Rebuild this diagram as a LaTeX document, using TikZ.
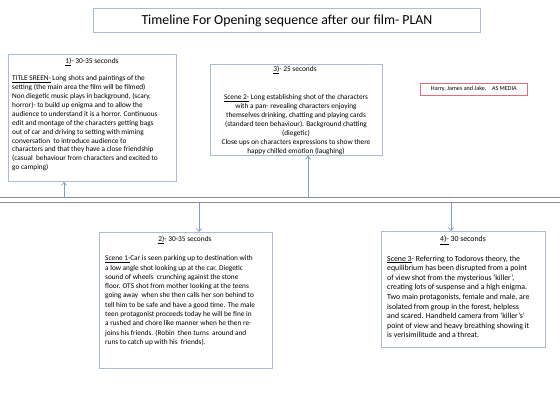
\documentclass[tikz,border=0pt]{standalone}
\usepackage{fontspec}
\setmainfont{Carlito}
\usetikzlibrary{arrows.meta}
\definecolor{boxline}{HTML}{A9BCD6}
\definecolor{arrowc}{HTML}{7F9CC0}
\definecolor{tline}{HTML}{8C8C8C}
\definecolor{redline}{HTML}{D9707A}
\tikzset{
  box/.style={draw=boxline, line width=0.8pt, anchor=north west, inner sep=0pt},
  head/.style={inner sep=0pt, font=\fontsize{7.4}{8.9}\selectfont},
  body/.style={inner sep=0pt, anchor=north west, align=left, font=\fontsize{7.3}{8.9}\selectfont},
  conn/.style={draw=arrowc, line width=0.7pt, -{Straight Barb[length=3pt,width=5pt]}},
}
\begin{document}
\begin{tikzpicture}[x=1pt,y=-1pt]
\useasboundingbox (0,0) rectangle (560,420);
% title
\node[box, minimum width=387pt, minimum height=24pt] (title) at (93,8) {};
\node[inner sep=0pt, font=\fontsize{13.8}{16}\selectfont] (titletext) at (title.center) {Timeline For Opening sequence after our film- PLAN};
% timeline
\coordinate (tlL) at (0,197.5);
\coordinate (tlR) at (560,197.5);
\coordinate (tlL2) at (0,202.5);
\coordinate (tlR2) at (560,202.5);
\draw[tline, line width=1pt] (tlL) -- (tlR);
\draw[tline, line width=1pt] (tlL2) -- (tlR2);
% box 1
\node[box, minimum width=168pt, minimum height=127pt] (b1) at (8,54) {};
\node[head] (h1) at (92,62) {\underline{1)}- 30-35 seconds};
\node[body] (t1) at (12,75.5) {\underline{TITLE SREEN-} Long shots and paintings of the\\
setting (the main area the film will be filmed)\\
Non diegetic music plays in background, (scary,\\
horror)- to build up enigma and to allow the\\
audience to understand it is a horror. Continuous\\
edit and montage of the characters getting bags\\
out of car and driving to setting with miming\\
conversation\ \ to introduce audience to\\
characters and that they have a close friendship\\
(casual\ \ behaviour from characters and excited to\\
go camping)};
% box 3
\node[box, minimum width=172pt, minimum height=91pt] (b3) at (210,64) {};
\node[head] (h3) at (295,70) {\underline{3)}- 25 seconds};
\node[body, anchor=north, align=center] (t3) at (296,94.5) {\underline{Scene 2-} Long establishing shot of the characters\\
with a pan- revealing characters enjoying\\
themselves drinking, chatting and playing cards\\
(standard teen behaviour). Background chatting\\
(diegetic)\\
Close ups on characters expressions to show there\\
happy chilled emotion (laughing)};
% red box
\node[draw=redline, line width=0.7pt, minimum width=107pt, minimum height=12pt, anchor=north west, inner sep=0pt] (names) at (420,83) {};
\node[inner sep=0pt, font=\fontsize{6.1}{7}\selectfont] (namestext) at (names.center) {Harry, James and Jake.\ \ \ \ AS MEDIA};
% box 2
\node[box, minimum width=173pt, minimum height=136pt] (b2) at (99,232) {};
\node[head] (h2) at (185,240) {\underline{2)}- 30-35 seconds};
\node[body, font=\fontsize{7.3}{9.3}\selectfont] (t2) at (105,255.5) {\underline{Scene 1-}Car is seen parking up to destination with\\
a low angle shot looking up at the car. Diegetic\\
sound of wheels\ \ crunching against the stone\\
floor. OTS shot from mother looking at the teens\\
going away\ \ when she then calls her son behind to\\
tell him to be safe and have a good time. The male\\
teen protagonist proceeds today he will be fine in\\
a rushed and chore like manner when he then re-\\
joins his friends. (Robin\ \ then turns\ \ around and\\
runs to catch up with his\ \ friends).};
% box 4
\node[box, minimum width=164pt, minimum height=116pt] (b4) at (381,231) {};
\node[head, font=\fontsize{7.8}{9}\selectfont] (h4) at (463,240) {\underline{4)-} 30 seconds};
\node[body, font=\fontsize{7.8}{9.6}\selectfont] (t4) at (387,255.5) {\underline{Scene 3}- Referring to Todorovs theory, the\\
equilibrium has been disrupted from a point\\
of view shot from the mysterious `killer',\\
creating lots of suspense and a high enigma.\\
Two main protagonists, female and male, are\\
isolated from group in the forest, helpless\\
and scared. Handheld camera from `killer's'\\
point of view and heavy breathing showing it\\
is verisimilitude and a threat.};
% connectors
\draw[conn] (b1.south -| 64,0) ++(0,16) coordinate (c1) -- (c1 |- b1.south);
\draw[conn] (308,197.5) coordinate (c3) -- (c3 |- b3.south);
\draw[conn] (199,202.5) coordinate (c2) -- (c2 |- b2.north);
\draw[conn] (451,202.5) coordinate (c4) -- (c4 |- b4.north);
\end{tikzpicture}
\end{document}
